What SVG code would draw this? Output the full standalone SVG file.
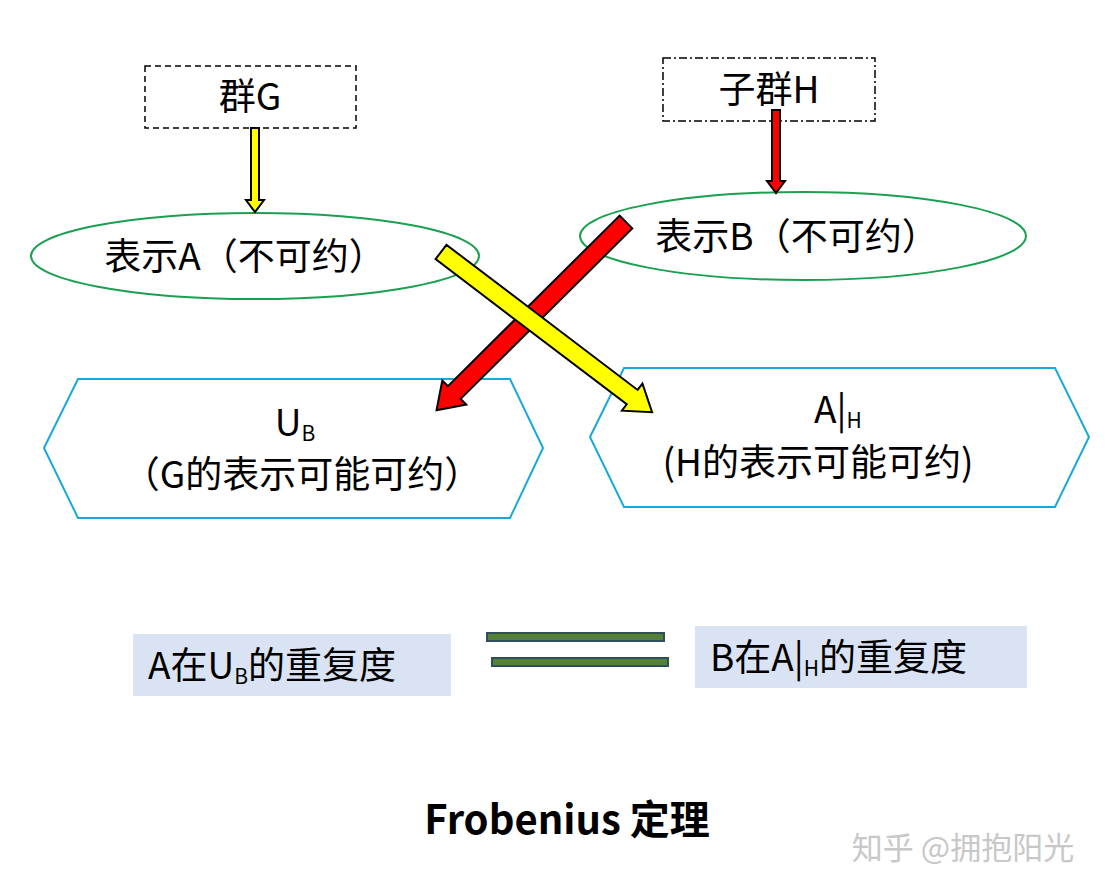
<svg xmlns="http://www.w3.org/2000/svg" width="1111" height="894" viewBox="0 0 1111 894">
<style>
text{font-family:"Noto Sans CJK SC","Noto Sans",sans-serif;fill:#000}
.t{font-size:37px}
.ell{fill:#fff;stroke:#1aa050;stroke-width:2}
.hex{fill:#fff;stroke:#1aa8d8;stroke-width:2}
.box{fill:#fff;stroke:#000;stroke-width:1.5}
.lb{fill:#dae3f3}
.ar{stroke:#000;stroke-width:2;stroke-linejoin:miter}
.bar{fill:#548235;stroke:#2f4f5f;stroke-width:2}
</style>
<rect width="1111" height="894" fill="#fff"/>
<g id="nodeG"><rect class="box" x="145" y="66" width="211" height="62" stroke-dasharray="6,4"/><text class="t" x="250" y="110" text-anchor="middle">群G</text></g>
<g id="nodeH"><rect class="box" x="663" y="58" width="212" height="63" stroke-dasharray="8,3,2,3"/><text class="t" x="769" y="103" text-anchor="middle">子群H</text></g>
<g id="nodeA"><ellipse class="ell" cx="255" cy="256" rx="224" ry="43"/><text class="t" x="245" y="270" text-anchor="middle">表示A（不可约）</text></g>
<g id="nodeB"><ellipse class="ell" cx="803" cy="236" rx="223" ry="44"/><text class="t" x="797" y="250" text-anchor="middle">表示B（不可约）</text></g>
<g id="nodeUB"><polygon class="hex" points="44,448 78,379 510,379 543,448 510,518 78,518"/>
<text class="t" x="295" y="436" text-anchor="middle">U<tspan font-size="21" dy="5">B</tspan></text>
<text class="t" x="302" y="488" text-anchor="middle">（G的表示可能可约）</text></g>
<g id="nodeAH"><polygon class="hex" points="590,437 624,368 1055,368 1089,437 1055,507 624,507"/>
<text class="t" x="838" y="423" text-anchor="middle">A|<tspan font-size="21" dy="5">H</tspan></text>
<text class="t" x="818" y="476" text-anchor="middle">(H的表示可能可约)</text></g>
<g id="mulA"><rect class="lb" x="133" y="634" width="318" height="62"/><text class="t" x="148" y="679">A在U<tspan font-size="21" dy="5">B</tspan><tspan dy="-5">的重复度</tspan></text></g>
<g id="mulB"><rect class="lb" x="695" y="626" width="332" height="62"/><text class="t" x="710" y="671">B在A|<tspan font-size="21" dy="5">H</tspan><tspan dy="-5">的重复度</tspan></text></g>
<g id="connectors">
<polygon class="ar" fill="#ffff00" points="251,128 259,128 259,200 264,200 255,212 246,200 251,200"/>
<polygon class="ar" fill="#ff0000" points="772,110 780,110 780,181 785,181 776,193 767,181 772,181"/>
<g transform="translate(626,222) rotate(135.2)"><polygon class="ar" fill="#ff0000" points="0,-9 242,-9 242,-17 267,0 242,17 242,9 0,9"/></g>
<g transform="translate(441,252) rotate(37.2)"><polygon class="ar" fill="#ffff00" points="0,-9 240,-9 240,-17 265,0 240,17 240,9 0,9"/></g>
<rect class="bar" x="487" y="633" width="177" height="8"/>
<rect class="bar" x="492" y="658" width="176" height="8"/>
</g>
<text x="567" y="834" text-anchor="middle" font-size="40" font-weight="bold">Frobenius 定理</text>
<text x="963" y="859" text-anchor="middle" font-size="31" style="fill:#c8c8c8">知乎 @拥抱阳光</text>
</svg>
